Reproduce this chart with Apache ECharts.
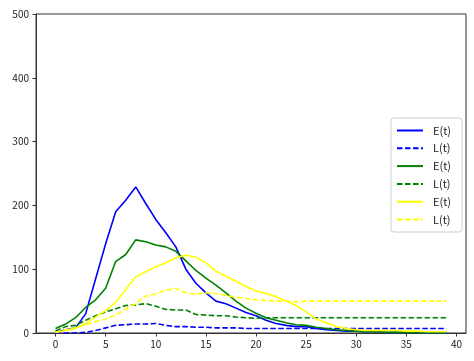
<!DOCTYPE html>
<html>
<head>
<meta charset="utf-8">
<script src="https://cdn.jsdelivr.net/npm/echarts@6/dist/echarts.min.js"></script>
<style>
html,body{margin:0;padding:0;background:#fff;}
#chart{width:474px;height:361px;}
</style>
</head>
<body>
<div id="chart"></div>
<script>
// time steps t = 0..39
var tValues = [0,1,2,3,4,5,6,7,8,9,10,11,12,13,14,15,16,17,18,19,20,21,22,23,24,25,26,27,28,29,30,31,32,33,34,35,36,37,38,39];
var xTicks = [0,5,10,15,20,25,30,35,40];

// blue pair
var blueE = [1,5,8,30,85,140,190,208,229,203,178,157,135,100,78,63,50,46,39,32,27,20,15,12,10,10,7,5,4,3,3,2,2,1,1,1,1,0,0,0];
var blueL = [0,0,0,1,4,8,12,13,14,14,15,12,10,10,9,9,8,8,8,7,7,7,7,7,7,7,7,7,7,7,7,7,7,7,7,7,7,7,7,7];
// green pair
var greenE = [7,14,24,40,52,70,112,123,146,143,138,135,128,113,98,86,75,63,50,39,31,24,20,16,13,12,9,7,5,4,3,2,2,1,1,1,0,0,0,0];
var greenL = [3,10,12,20,27,33,38,43,44,46,42,37,36,36,29,28,27,27,25,24,23,24,24,24,24,24,24,24,24,24,24,24,24,24,24,24,24,24,24,24];
// yellow pair
var yellowE = [1,4,8,15,25,35,48,68,88,96,104,110,118,122,119,110,97,89,81,73,66,62,57,50,43,33,22,16,10,7,5,4,4,4,4,3,3,2,2,2];
var yellowL = [1,5,8,13,18,22,28,38,46,58,61,67,70,63,61,63,62,59,56,54,52,51,50,50,49,50,50,50,50,50,50,50,50,50,50,50,50,50,50,50];

function pairs(vals){ return tValues.map(function(t,i){ return [t, vals[i]]; }); }

var FONT = 'Noto Sans CJK SC';
function mk(name, color, vals, dashed){
  return {
    name: name, type: 'line', data: pairs(vals),
    showSymbol: false, symbol: 'none', smooth: false,
    lineStyle: { color: color, width: 1.6, type: dashed ? [5.5, 2.5] : 'solid' },
    itemStyle: { color: color },
    emphasis: { disabled: true }
  };
}

var chart = echarts.init(document.getElementById('chart'));
chart.setOption({
  animation: false,
  backgroundColor: '#fff',
  grid: { left: 36, right: 8, top: 14, bottom: 28, show: true, borderColor: '#333', borderWidth: 1, containLabel: false },
  xAxis: {
    type: 'value', min: -1.95, max: 40.95,
    axisLine: { show: true, onZero: false, lineStyle: { color: '#333', width: 1 } },
    axisTick: { show: true, inside: false, length: 3.5, lineStyle: { color: '#333' }, customValues: xTicks },
    axisLabel: { color: '#222', fontSize: 10, fontFamily: FONT, margin: 6, customValues: xTicks },
    splitLine: { show: false }
  },
  yAxis: {
    type: 'value', min: 0, max: 500, interval: 100,
    axisLine: { show: true, onZero: false, lineStyle: { color: '#333', width: 1 } },
    axisTick: { show: true, inside: false, length: 3.5, lineStyle: { color: '#333' } },
    axisLabel: { color: '#222', fontSize: 10, fontFamily: FONT, margin: 7 },
    splitLine: { show: false }
  },
  legend: {
    orient: 'vertical', left: 391, top: 118,
    itemWidth: 26, itemHeight: 8, itemGap: 2.8,
    padding: [5, 11, 5, 5],
    backgroundColor: 'rgba(255,255,255,0.85)', borderColor: '#ccc', borderWidth: 1, borderRadius: 3,
    textStyle: { color: '#222', fontSize: 11, fontFamily: FONT, lineHeight: 15, padding: [0, 0, 0, 5] },
    itemStyle: { opacity: 0 },
    formatter: function(n){ return n.charAt(0) + '(t)'; },
    data: ['E1','L1','E2','L2','E3','L3']
  },
  series: [
    mk('E1', '#0000ff', blueE, false),
    mk('L1', '#0000ff', blueL, true),
    mk('E2', '#008000', greenE, false),
    mk('L2', '#008000', greenL, true),
    mk('E3', '#ffff00', yellowE, false),
    mk('L3', '#ffff00', yellowL, true)
  ]
});
</script>
</body>
</html>
